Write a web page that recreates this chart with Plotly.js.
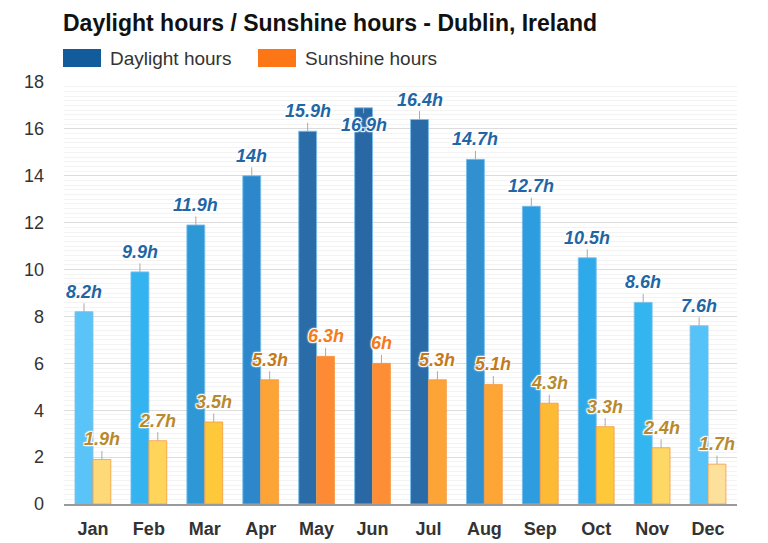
<!DOCTYPE html>
<html>
<head>
<meta charset="utf-8">
<script src="https://cdn.plot.ly/plotly-3.0.1.min.js"></script>
<style>
  html, body { margin: 0; padding: 0; background: #ffffff; }
  #chart { width: 768px; height: 543px; }
</style>
</head>
<body>
<div id="chart"></div>
<script>
// Monthly daylight and sunshine hours for Dublin
const months = ['Jan', 'Feb', 'Mar', 'Apr', 'May', 'Jun', 'Jul', 'Aug', 'Sep', 'Oct', 'Nov', 'Dec'];
const daylightHours = [8.2, 9.9, 11.9, 14, 15.9, 16.9, 16.4, 14.7, 12.7, 10.5, 8.6, 7.6];
const sunshineHours = [1.9, 2.7, 3.5, 5.3, 6.3, 6, 5.3, 5.1, 4.3, 3.3, 2.4, 1.7];
const yTicks = [0, 2, 4, 6, 8, 10, 12, 14, 16, 18];

// Per-bar shades: longer days get deeper blue, sunnier months deeper orange
const daylightColors = ['#5ac3f7', '#33b3ef', '#2e97d6', '#2d88cb', '#2a6ca8', '#2a68a5',
                        '#2a6aa6', '#3190d0', '#2d9ddf', '#2eaaea', '#33b6f0', '#55c2f8'];
const sunshineColors = ['#fdd977', '#fed55a', '#fdc83a', '#fda436', '#fd8a35', '#fd8e35',
                        '#fda436', '#fda535', '#fdbb35', '#fdc93a', '#fdd865', '#fde09a'];

const W = 768, H = 543;
const M = { l: 64, r: 31, t: 82, b: 39 };
const plotW = W - M.l - M.r, plotH = H - M.t - M.b;
const px2paperX = x => (x - M.l) / plotW;
const px2paperY = y => (H - M.b - y) / plotH;

const halo = '1px 1px 1px #fff, -1px -1px 1px #fff, 1px -1px 1px #fff, -1px 1px 1px #fff, 0 0 3px #fff';
const fontFamily = '"Liberation Sans", Arial, sans-serif';

const traces = [
  {
    type: 'bar', name: 'Daylight hours', x: months, y: daylightHours,
    marker: { color: daylightColors, line: { color: 'rgba(120,190,235,0.9)', width: 1 } },
    hoverinfo: 'x+y'
  },
  {
    type: 'bar', name: 'Sunshine hours', x: months, y: sunshineHours,
    marker: { color: sunshineColors, line: { color: 'rgba(245,150,60,0.75)', width: 1 } },
    hoverinfo: 'x+y'
  }
];

const yMax = yTicks[yTicks.length - 1];
const pxPerUnit = plotH / yMax;

function sunshineLabelColor(v) {
  if (v >= 5.8) return '#f47b20';
  if (v >= 5.0) return '#c47a1c';
  return '#b8892e';
}

const annotations = [];
months.forEach((m, i) => {
  const d = daylightHours[i];
  const below = (yMax - d) * pxPerUnit < 30;
  annotations.push({
    xref: 'x', yref: 'y', x: i - 0.16, y: d, text: d + 'h',
    showarrow: true, arrowhead: 0, arrowwidth: 1, arrowcolor: '#aaaaaa',
    ax: 0, ay: below ? 17 : -20,
    font: { family: fontFamily, size: 18, color: '#1f66a6', weight: 700, style: 'italic', shadow: halo }
  });
  const s = sunshineHours[i];
  annotations.push({
    xref: 'x', yref: 'y', x: i + 0.16, y: s, text: s + 'h',
    showarrow: true, arrowhead: 0, arrowwidth: 1, arrowcolor: '#aaaaaa',
    ax: 0, ay: -20,
    font: { family: fontFamily, size: 18, color: sunshineLabelColor(s), weight: 700, style: 'italic', shadow: halo }
  });
});

// Legend drawn as swatches plus captions above the plot area
const legendItems = [
  { name: 'Daylight hours', color: '#135c9c', x0: 63, x1: 101, tx: 108 },
  { name: 'Sunshine hours', color: '#fd7616', x0: 258, x1: 296, tx: 303 }
];
const shapes = [];
legendItems.forEach(it => {
  shapes.push({
    type: 'rect', xref: 'paper', yref: 'paper',
    x0: px2paperX(it.x0), x1: px2paperX(it.x1), y0: px2paperY(67), y1: px2paperY(49),
    fillcolor: it.color, line: { width: 0 }
  });
  annotations.push({
    xref: 'paper', yref: 'paper', x: px2paperX(it.tx), y: px2paperY(58),
    xanchor: 'left', yanchor: 'middle', showarrow: false, text: it.name,
    font: { family: fontFamily, size: 19, color: '#333333' }
  });
});

const layout = {
  width: W, height: H,
  margin: M,
  paper_bgcolor: '#ffffff', plot_bgcolor: '#ffffff',
  showlegend: false,
  barmode: 'group', bargap: 0.36, bargroupgap: 0,
  title: {
    text: '<b>Daylight hours / Sunshine hours - Dublin, Ireland</b>',
    xref: 'container', yref: 'container',
    x: 63 / W, xanchor: 'left', y: 1 - 23 / H, yanchor: 'middle',
    font: { family: fontFamily, size: 23, color: '#111111' }
  },
  xaxis: {
    type: 'category',
    showgrid: false, zeroline: false,
    showline: true, linecolor: '#9a9a9a', linewidth: 1.5,
    ticks: '', ticklabelstandoff: 8,
    tickfont: { family: fontFamily, size: 18, color: '#333333', weight: 700 }
  },
  yaxis: {
    range: [0, yMax], tickmode: 'array', tickvals: yTicks, ticktext: yTicks.map(String),
    showgrid: true, gridcolor: '#dcdcdc', gridwidth: 1,
    zeroline: false, showline: false, ticks: '', ticklabelstandoff: 19,
    tickfont: { family: fontFamily, size: 18, color: '#333333' },
    minor: { dtick: 0.2, showgrid: true, gridcolor: '#f3f3f3', gridwidth: 1 }
  },
  annotations: annotations,
  shapes: shapes
};

Plotly.newPlot('chart', traces, layout, { displayModeBar: false, staticPlot: true });
</script>
</body>
</html>
